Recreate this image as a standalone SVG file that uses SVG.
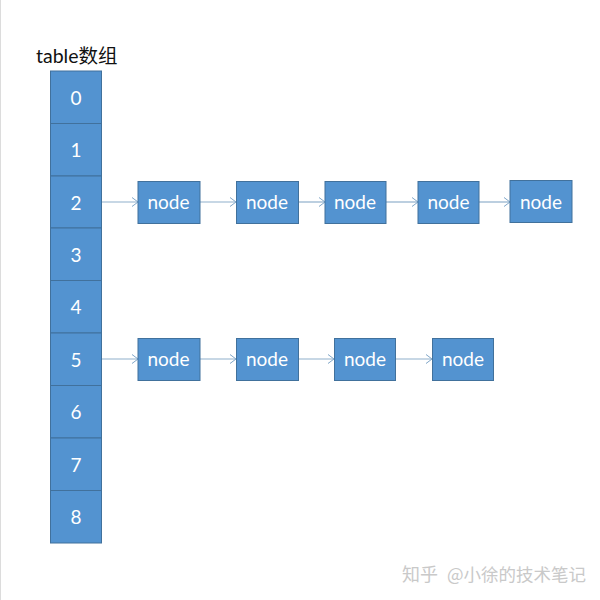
<svg xmlns="http://www.w3.org/2000/svg" width="600" height="600" viewBox="0 0 600 600">
<defs>
<marker id="arrow" markerUnits="userSpaceOnUse" markerWidth="10" markerHeight="12" refX="8" refY="6" orient="auto"><path d="M2 1.500L8 6L2 10.500" fill="none" stroke="#7fa6c8" stroke-width="1"/></marker>
</defs>
<style>
.box{fill:#5393d0;stroke:#41719c;stroke-width:1}
.t{fill:#fff;font-family:Lato,"Open Sans",sans-serif;text-anchor:middle}
.idx{font-size:19px}
.nd{font-size:19px}
.c{stroke:#8fb0cb;stroke-width:1.200;fill:none;marker-end:url(#arrow)}
</style>
<rect width="600" height="600" fill="#fff"/>
<rect x="0" y="0" width="1" height="600" fill="#dcdcdc"/>
<text x="36" y="63" font-size="19.500" fill="#111" font-family="Lato,'Noto Sans CJK SC',sans-serif">table数组</text>
<g id="table">
<g id="cell0"><rect class="box" x="50.500" y="71" width="51" height="52.500"/><text class="t idx" x="76" y="104.500">0</text></g>
<g id="cell1"><rect class="box" x="50.500" y="123.500" width="51" height="52.500"/><text class="t idx" x="76" y="157">1</text></g>
<g id="cell2"><rect class="box" x="50.500" y="176" width="51" height="52"/><text class="t idx" x="76" y="209.500">2</text></g>
<g id="cell3"><rect class="box" x="50.500" y="228" width="51" height="52.500"/><text class="t idx" x="76" y="261.500">3</text></g>
<g id="cell4"><rect class="box" x="50.500" y="280.500" width="51" height="52.500"/><text class="t idx" x="76" y="314">4</text></g>
<g id="cell5"><rect class="box" x="50.500" y="333" width="51" height="52.500"/><text class="t idx" x="76" y="366.500">5</text></g>
<g id="cell6"><rect class="box" x="50.500" y="385.500" width="51" height="52.500"/><text class="t idx" x="76" y="419">6</text></g>
<g id="cell7"><rect class="box" x="50.500" y="438" width="51" height="52.500"/><text class="t idx" x="76" y="471.500">7</text></g>
<g id="cell8"><rect class="box" x="50.500" y="490.500" width="51" height="52.500"/><text class="t idx" x="76" y="524">8</text></g>
</g>
<g id="connectors">
<path class="c" d="M102 202H138"/>
<path class="c" d="M200 202H236"/>
<path class="c" d="M298 202H325"/>
<path class="c" d="M386 202H418"/>
<path class="c" d="M479 202H510"/>
<path class="c" d="M102 359H138"/>
<path class="c" d="M200 359H236"/>
<path class="c" d="M298 359H334"/>
<path class="c" d="M396 359H432"/>
</g>
<g id="n1"><rect class="box" x="138" y="181.500" width="62" height="42"/><text class="t nd" x="168.500" y="209">node</text></g>
<g id="n2"><rect class="box" x="236.500" y="181.500" width="62" height="42"/><text class="t nd" x="267" y="209">node</text></g>
<g id="n3"><rect class="box" x="325" y="181.500" width="61" height="42"/><text class="t nd" x="355" y="209">node</text></g>
<g id="n4"><rect class="box" x="418" y="181.500" width="61" height="42"/><text class="t nd" x="448.500" y="209">node</text></g>
<g id="n5"><rect class="box" x="510" y="180.500" width="62" height="42"/><text class="t nd" x="541" y="209">node</text></g>
<g id="n6"><rect class="box" x="138" y="338.500" width="62" height="42"/><text class="t nd" x="168.500" y="366">node</text></g>
<g id="n7"><rect class="box" x="236.500" y="338.500" width="62" height="42"/><text class="t nd" x="267" y="366">node</text></g>
<g id="n8"><rect class="box" x="334.500" y="338.500" width="61" height="42"/><text class="t nd" x="365" y="366">node</text></g>
<g id="n9"><rect class="box" x="432.500" y="338.500" width="61" height="42"/><text class="t nd" x="463" y="366">node</text></g>
<text x="402" y="581" font-size="18" fill="#c9c9c9" font-family="'Noto Sans CJK SC',sans-serif">知乎<tspan x="447" font-size="17.500">@小徐的技术笔记</tspan></text>
</svg>
